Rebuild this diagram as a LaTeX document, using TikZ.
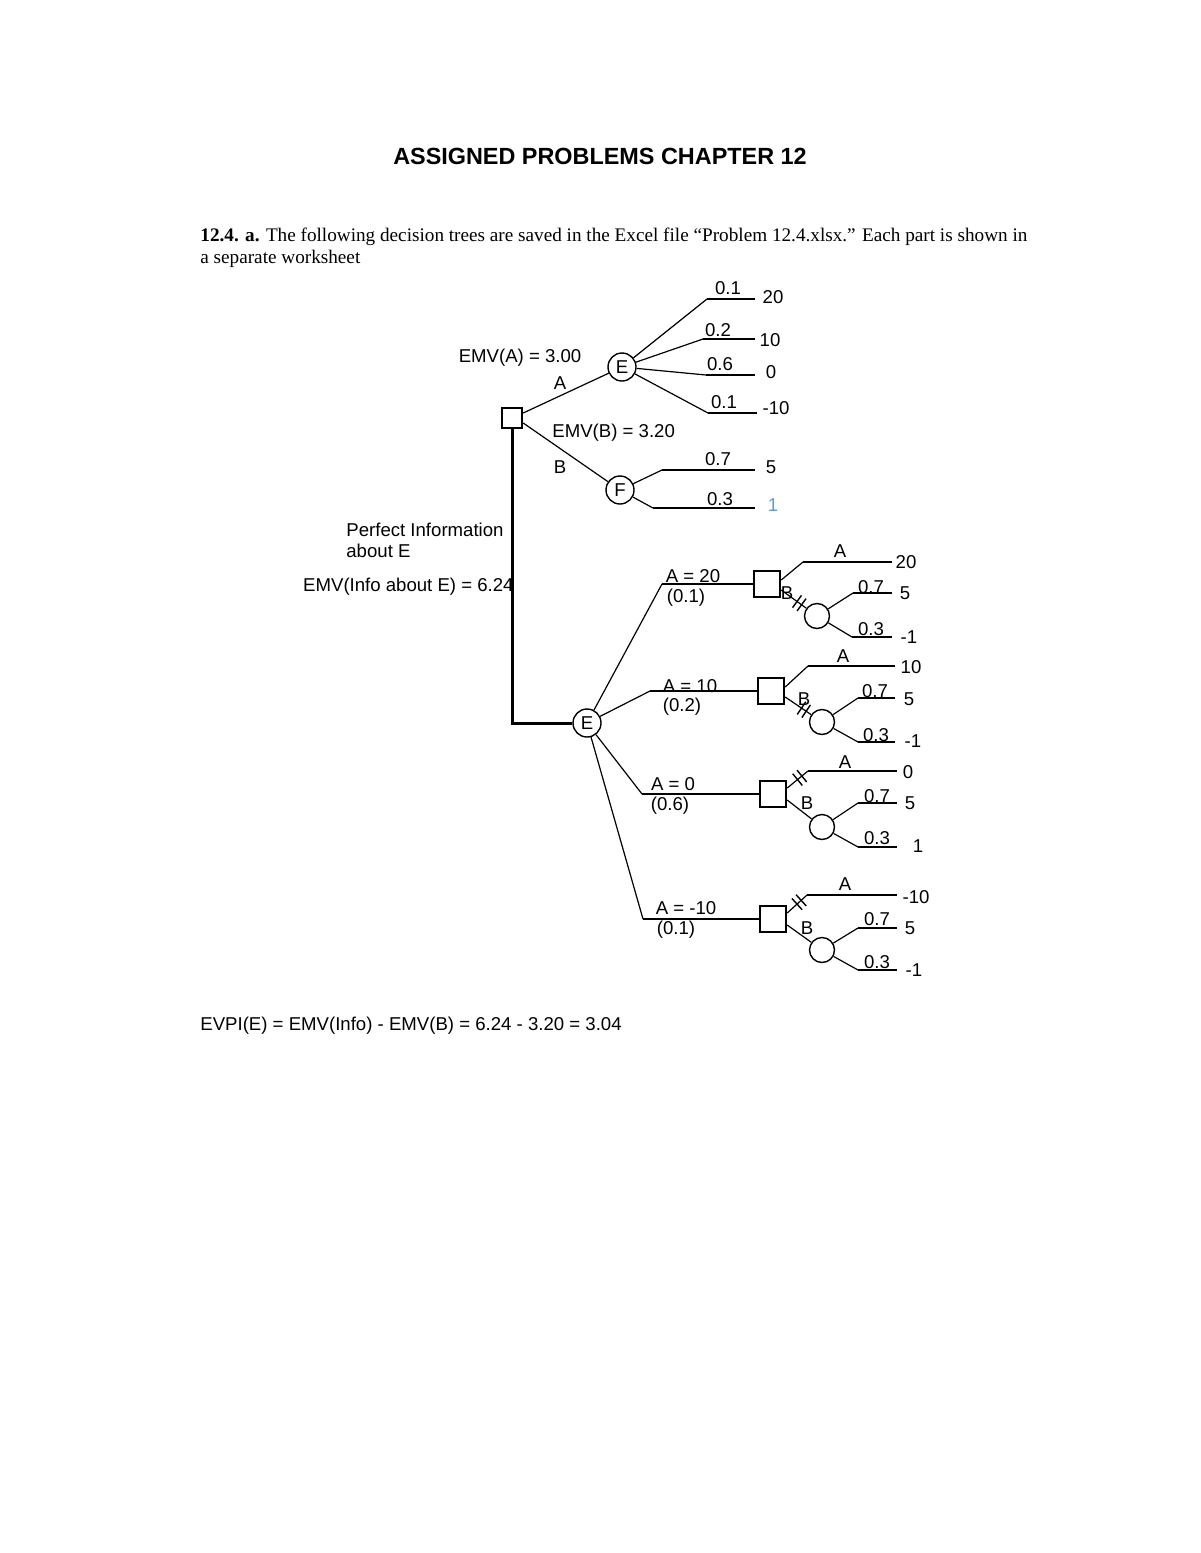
\documentclass[tikz,border=0pt]{standalone}
\usepackage{fontspec}
\setmainfont{Liberation Serif}
\newfontfamily\arial{Liberation Sans}
\begin{document}
\begin{tikzpicture}[x=0.5pt,y=-0.5pt,
  lbl/.style={font=\arial\fontsize{9.3}{11}\selectfont, inner sep=0pt},
  decsq/.style={draw, line width=1.2pt, minimum width=10pt, minimum height=10pt, inner sep=0pt},
  decsm/.style={draw, line width=1.2pt, minimum width=13pt, minimum height=13pt, inner sep=0pt},
  chance/.style={draw, circle, line width=0.7pt, minimum size=14pt, inner sep=0pt, font=\arial\fontsize{9.3}{11}\selectfont},
  chsm/.style={draw, circle, line width=0.7pt, minimum size=12.5pt, inner sep=0pt},
  br/.style={line width=0.6pt},
  pay/.style={line width=1pt},
  trunk/.style={line width=1.5pt},
  hatch/.pic={\draw[line width=0.7pt] (-1.4pt,-3.8pt) -- (-1.4pt,3.8pt); \draw[line width=0.7pt] (1.4pt,-3.8pt) -- (1.4pt,3.8pt);}
]
\useasboundingbox (0,0) rectangle (1200,1553);

% header
\node[font=\arial\bfseries\fontsize{11.7}{13}\selectfont, inner sep=0pt] (title) at (600,156) {ASSIGNED PROBLEMS CHAPTER 12};
\node[anchor=west, inner sep=0pt, font=\fontsize{9.6}{11}\selectfont] (l1) at (200,237) {\textbf{12.4.} \textbf{a.} The following decision trees are saved in the Excel file “Problem 12.4.xlsx.” Each part is shown in};
\node[anchor=west, inner sep=0pt, font=\fontsize{9.6}{11}\selectfont] (l2) at (200,259) {a separate worksheet};

% upper tree
\node[decsq] (D0) at (512,418) {};
\node[chance] (E1) at (622,367) {E};
\node[chance] (F) at (620,490) {F};
\coordinate (e1a) at (707,299); \coordinate (e1ae) at (755,299);
\coordinate (e1b) at (703,339); \coordinate (e1be) at (755,339);
\coordinate (e1c) at (706,375); \coordinate (e1ce) at (755,375);
\coordinate (e1d) at (708,413); \coordinate (e1de) at (757,413);
\coordinate (f1) at (662,470); \coordinate (f1e) at (755,470);
\coordinate (f2) at (653,508); \coordinate (f2e) at (755,508);

\draw[br] ([yshift=2.5pt]D0.east) -- (E1);
\draw[br] ([yshift=-2.5pt]D0.east) -- (F);
\draw[br] (E1) -- (e1a); \draw[pay] (e1a) -- (e1ae);
\draw[br] (E1) -- (e1b); \draw[pay] (e1b) -- (e1be);
\draw[br] (E1) -- (e1c); \draw[pay] (e1c) -- (e1ce);
\draw[br] (E1) -- (e1d); \draw[pay] (e1d) -- (e1de);
\draw[br] (F) -- (f1); \draw[pay] (f1) -- (f1e);
\draw[br] (F) -- (f2); \draw[pay] (f2) -- (f2e);

\node[lbl] (emva) at (520,358) {EMV(A) = 3.00};
\node[lbl] (la) at (560,383) {A};
\node[lbl, anchor=west] (emvb) at (552,433) {EMV(B) = 3.20};
\node[lbl] (lb) at (560,467) {B};
\node[lbl] at (728,288) {0.1}; \node[lbl] at (773,297) {20};
\node[lbl] at (718,330) {0.2}; \node[lbl] at (770,340) {10};
\node[lbl] at (720,364) {0.6}; \node[lbl] at (771,372) {0};
\node[lbl] at (724,402) {0.1}; \node[lbl] at (776,408) {-10};
\node[lbl] at (718,459) {0.7}; \node[lbl] at (771,467) {5};
\node[lbl] at (720,499) {0.3}; \node[lbl, text={rgb,255:red,90;green,155;blue,213}] at (773,505) {1};

% trunk
\node[lbl, anchor=west] (pi1) at (346,530) {Perfect Information};
\node[lbl, anchor=west] (pi2) at (346,551) {about E};
\node[lbl, anchor=east] (emvi) at (514,587) {EMV(Info about E) = 6.24};
\node[chance] (E2) at (587,723) {E};
\draw[trunk] (D0.south) |- (E2);

% lower tree
\node[decsm] (D1) at (767,584) {};
\node[decsm] (D2) at (771,691) {};
\node[decsm] (D3) at (773,794) {};
\node[decsm] (D4) at (773,919) {};
\node[chsm] (C1) at (817,616) {};
\node[chsm] (C2) at (822,722) {};
\node[chsm] (C3) at (822,827) {};
\node[chsm] (C4) at (822,950) {};
\coordinate (k1) at (662,584);
\coordinate (k2) at (650,691);
\coordinate (k3) at (642,794);
\coordinate (k4) at (643,919);

\draw[br] (E2) -- (k1); \draw[pay] (k1) -- (D1);
\draw[br] (E2) -- (k2); \draw[pay] (k2) -- (D2);
\draw[br] (E2) -- (k3); \draw[line width=0.75pt] (k3) -- (D3);
\draw[br] (E2) -- (k4); \draw[line width=0.75pt] (k4) -- (D4);

% sub-tree 1
\coordinate (a1) at (803,562); \coordinate (a1e) at (892,562);
\coordinate (p1) at (853,593); \coordinate (p1e) at (892,593);
\coordinate (q1) at (852,637); \coordinate (q1e) at (892,637);
\draw[br] ([yshift=2pt]D1.east) -- (a1); \draw[pay] (a1) -- (a1e);
\draw[br] ([yshift=-3pt]D1.east) -- (C1) pic[pos=0.72, sloped]{hatch};
\draw[br] (C1) -- (p1); \draw[pay] (p1) -- (p1e);
\draw[br] (C1) -- (q1); \draw[pay] (q1) -- (q1e);
\node[lbl] at (693,576) {A = 20}; \node[lbl] at (686,598) {(0.1)};
\node[lbl] at (840,551) {A}; \node[lbl] at (906,562) {20};
\node[lbl] at (787,593) {B};
\node[lbl] at (871,587) {0.7}; \node[lbl] at (905,593) {5};
\node[lbl] at (871,629) {0.3}; \node[lbl] at (909,637) {-1};

% sub-tree 2
\coordinate (a2) at (808,666); \coordinate (a2e) at (895,666);
\coordinate (p2) at (858,698); \coordinate (p2e) at (895,698);
\coordinate (q2) at (858,742); \coordinate (q2e) at (895,742);
\draw[br] ([yshift=2pt]D2.east) -- (a2); \draw[br] (a2) -- (a2e);
\draw[br] ([yshift=-3pt]D2.east) -- (C2) pic[pos=0.72, sloped]{hatch};
\draw[br] (C2) -- (p2); \draw[pay] (p2) -- (p2e);
\draw[br] (C2) -- (q2); \draw[pay] (q2) -- (q2e);
\node[lbl] at (690,686) {A = 10}; \node[lbl] at (682,707) {(0.2)};
\node[lbl] at (843,656) {A}; \node[lbl] at (911,667) {10};
\node[lbl] at (804,699) {B};
\node[lbl] at (875,691) {0.7}; \node[lbl] at (909,699) {5};
\node[lbl] at (876,735) {0.3}; \node[lbl] at (913,741) {-1};

% sub-tree 3
\coordinate (a3) at (808,771); \coordinate (a3e) at (897,771);
\coordinate (p3) at (858,803); \coordinate (p3e) at (897,803);
\coordinate (q3) at (858,847); \coordinate (q3e) at (897,847);
\draw[br] ([yshift=3pt]D3.east) -- (a3) pic[pos=0.6, sloped]{hatch}; \draw[pay] (a3) -- (a3e);
\draw[br] ([yshift=-3pt]D3.east) -- (C3);
\draw[br] (C3) -- (p3); \draw[pay] (p3) -- (p3e);
\draw[br] (C3) -- (q3); \draw[pay] (q3) -- (q3e);
\node[lbl] at (673,784) {A = 0}; \node[lbl] at (670,806) {(0.6)};
\node[lbl] at (845,762) {A}; \node[lbl] at (908,772) {0};
\node[lbl] at (807,803) {B};
\node[lbl] at (877,796) {0.7}; \node[lbl] at (910,803) {5};
\node[lbl] at (877,838) {0.3}; \node[lbl] at (918,846) {1};

% sub-tree 4
\coordinate (a4) at (807,895); \coordinate (a4e) at (897,895);
\coordinate (p4) at (858,928); \coordinate (p4e) at (897,928);
\coordinate (q4) at (858,970); \coordinate (q4e) at (897,970);
\draw[br] ([yshift=3pt]D4.east) -- (a4) pic[pos=0.6, sloped]{hatch}; \draw[br] (a4) -- (a4e);
\draw[br] ([yshift=-3pt]D4.east) -- (C4);
\draw[br] (C4) -- (p4); \draw[pay] (p4) -- (p4e);
\draw[br] (C4) -- (q4); \draw[pay] (q4) -- (q4e);
\node[lbl] at (686,908) {A = -10}; \node[lbl] at (676,930) {(0.1)};
\node[lbl] at (845,884) {A}; \node[lbl] at (916,897) {-10};
\node[lbl] at (807,928) {B};
\node[lbl] at (877,919) {0.7}; \node[lbl] at (910,928) {5};
\node[lbl] at (877,962) {0.3}; \node[lbl] at (914,970) {-1};

% EVPI
\node[lbl, anchor=west] (evpi) at (200,1026) {EVPI(E) = EMV(Info) - EMV(B) = 6.24 - 3.20 = 3.04};
\end{tikzpicture}
\end{document}
